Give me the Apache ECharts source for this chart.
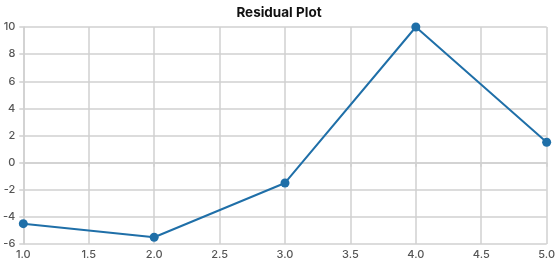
<!DOCTYPE html>
<html><head><meta charset="utf-8">
<script src="https://cdn.jsdelivr.net/npm/echarts@6/dist/echarts.min.js"></script>
<style>html,body{margin:0;padding:0;background:#fff}#c{width:558px;height:264px}</style>
</head><body><div id="c"></div>
<script>
const xValues = [1, 2, 3, 4, 5];
const residuals = [-4.5, -5.5, -1.5, 10, 1.5];
const yTicks = [-6, -4, -2, 0, 2, 4, 6, 8, 10];
const xTicks = [1.0, 1.5, 2.0, 2.5, 3.0, 3.5, 4.0, 4.5, 5.0];
const title = 'Residual Plot';

const gridColor = '#d0d0d0';
const chart = echarts.init(document.getElementById('c'), null, {renderer: 'canvas'});
chart.setOption({
  animation: false,
  title: {text: title, left: 'center', top: 1,
    textStyle: {fontFamily: 'Inter', fontSize: 13.5, fontWeight: 'bold', color: '#111'}},
  grid: {left: 22, right: 9, top: 27, bottom: 20, containLabel: false},
  xAxis: {type: 'value', min: xTicks[0], max: xTicks[xTicks.length - 1], interval: 0.5,
    axisLine: {show: true, lineStyle: {color: gridColor, width: 1.5}},
    axisTick: {show: true, length: 4, lineStyle: {color: gridColor, width: 1.5}},
    splitLine: {show: true, lineStyle: {color: gridColor, width: 1.5}},
    axisLabel: {color: '#555', fontFamily: 'Inter', fontSize: 11, fontWeight: 500, margin: 5,
      formatter: v => v.toFixed(1)}},
  yAxis: {type: 'value', min: yTicks[0], max: yTicks[yTicks.length - 1], interval: 2,
    axisLine: {show: true, lineStyle: {color: gridColor, width: 1.5}},
    axisTick: {show: true, length: 4, lineStyle: {color: gridColor, width: 1.5}},
    splitLine: {show: true, lineStyle: {color: gridColor, width: 1.5}},
    axisLabel: {color: '#555', fontFamily: 'Inter', fontSize: 11, fontWeight: 500, margin: 8}},
  series: [{type: 'line', data: xValues.map((x, i) => [x, residuals[i]]),
    symbol: 'circle', symbolSize: 9, clip: false,
    lineStyle: {color: '#1f6fa8', width: 2},
    itemStyle: {color: '#1f6fa8'}}]
});
</script></body></html>
